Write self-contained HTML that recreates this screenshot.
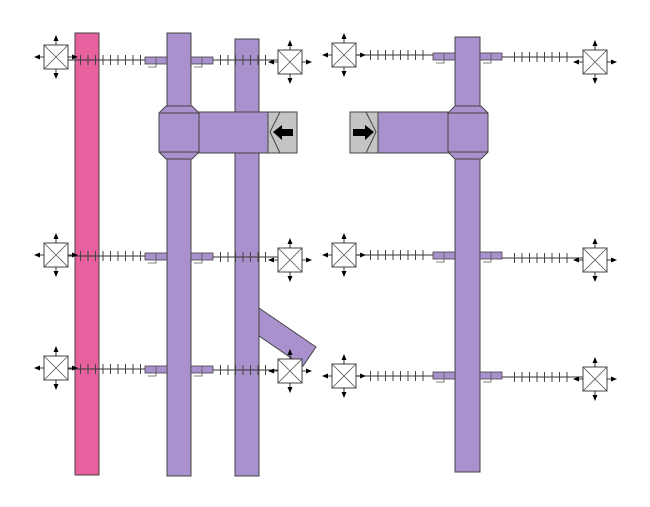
<!DOCTYPE html>
<html><head><meta charset="utf-8"><style>html,body{margin:0;padding:0;background:#fff}svg{display:block}</style></head>
<body>
<svg width="650" height="507" viewBox="0 0 650 507" xmlns="http://www.w3.org/2000/svg">
<defs>
<g id="d">
<rect x="-12" y="-12" width="24" height="24" fill="#fff" stroke="#444" stroke-width="1"/>
<path d="M-12,-12L12,12M12,-12L-12,12" stroke="#555" stroke-width="0.8"/>
<path d="M0,-12V-17M0,12V17M-12,0H-17M12,0H17" stroke="#000" stroke-width="0.8"/>
<path d="M0,-22L-2.5,-16H2.5zM0,22L-2.5,16H2.5zM-22,0L-16,-2.5V2.5zM22,0L16,-2.5V2.5z" fill="#000"/>
</g>
<g id="cl"><rect x="0" y="0" width="22" height="7" fill="#a991cd" stroke="#444" stroke-width="0.8"/><path d="M11,0V10H3" fill="none" stroke="#555" stroke-width="0.8"/></g>
</defs>
<g stroke="#444" stroke-width="1">
<rect x="75" y="33" width="24" height="442" fill="#e6619d"/>
<rect x="167" y="33" width="24" height="443" fill="#a991cd"/>
<rect x="235" y="39" width="24" height="437" fill="#a991cd"/>
<rect x="455" y="37" width="25" height="435" fill="#a991cd"/>
<polygon points="259,308 316,347 303,366 259,336" fill="#a991cd"/>
<rect x="199" y="112" width="69" height="41" fill="#a991cd"/>
<polygon points="166,106 192,106 199,113 199,152 192,159 166,159 159,152 159,113" fill="#a991cd"/>
<line x1="159" y1="113" x2="199" y2="113"/><line x1="159" y1="152" x2="199" y2="152"/>
<rect x="268" y="112" width="29" height="41" fill="#c4c4c4"/>
<path d="M280,112L270,132L280,153" fill="none"/>
<rect x="378" y="112" width="70" height="41" fill="#a991cd"/>
<polygon points="455,106 481,106 488,113 488,152 481,159 455,159 448,152 448,113" fill="#a991cd"/>
<line x1="448" y1="113" x2="488" y2="113"/><line x1="448" y1="152" x2="488" y2="152"/>
<rect x="350" y="112" width="28" height="41" fill="#c4c4c4"/>
<path d="M366,112L376,132L366,153" fill="none"/>
</g>
<polygon points="273,132 282,125 282,129 293,129 293,136 282,136 282,140" fill="#000"/>
<polygon points="374,132 365,125 365,129 353,129 353,136 365,136 365,140" fill="#000"/>
<g fill="none" stroke="#333" stroke-width="1">
<path d="M68,60H145M212,60H278M68,256H145M212,257H278M68,369H145M212,370H278"/>
<path d="M357,55H433M502,57H583M357,255H433M502,258H583M357,376H433M502,377H583"/>
</g>
<g fill="none" stroke="#444" stroke-width="10" stroke-dasharray="1 6.5">
<path d="M80,60H142M220,60H272M80,256H142M220,257H272M80,369H142M220,370H272"/>
<path d="M370,55H428M514,57H572M370,255H428M514,258H572M370,376H428M514,377H572"/>
</g>
<use href="#cl" x="145" y="57"/><use href="#cl" x="191" y="57"/>
<use href="#cl" x="145" y="253"/><use href="#cl" x="191" y="253"/>
<use href="#cl" x="145" y="366"/><use href="#cl" x="191" y="366"/>
<use href="#cl" x="433" y="53"/><use href="#cl" x="480" y="53"/>
<use href="#cl" x="433" y="252"/><use href="#cl" x="480" y="252"/>
<use href="#cl" x="433" y="372"/><use href="#cl" x="480" y="372"/>
<use href="#d" x="56" y="57"/><use href="#d" x="56" y="255"/><use href="#d" x="56" y="368"/>
<use href="#d" x="290" y="62"/><use href="#d" x="290" y="260"/><use href="#d" x="290" y="371"/>
<use href="#d" x="344" y="55"/><use href="#d" x="344" y="255"/><use href="#d" x="344" y="376"/>
<use href="#d" x="595" y="62"/><use href="#d" x="595" y="260"/><use href="#d" x="595" y="379"/>
</svg>
</body></html>
